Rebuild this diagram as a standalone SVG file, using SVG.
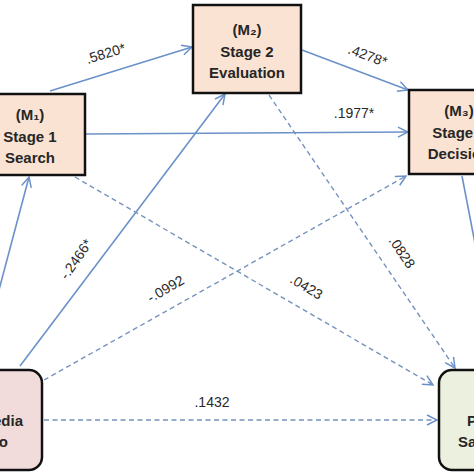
<svg xmlns="http://www.w3.org/2000/svg" width="474" height="474" viewBox="0 0 474 474">
<style>
.box{stroke:#111;stroke-width:2.5}
.m{fill:#fbe3d3}
.t{font-family:"Liberation Sans",Arial,sans-serif;font-weight:bold;font-size:15px;fill:#262626;text-anchor:middle}
.lb{font-family:"Liberation Sans",Arial,sans-serif;font-size:14px;fill:#2a2a2a;text-anchor:middle}
.s{fill:none;stroke:#6b91c9;stroke-width:1.6}
.d{fill:none;stroke:#7692bd;stroke-width:1.4;stroke-dasharray:5 3.5}
</style>
<defs>
<marker id="a" viewBox="0 0 12 12" refX="11" refY="6" markerWidth="12" markerHeight="12" markerUnits="userSpaceOnUse" orient="auto">
<polyline points="1,1 11,6 1,11" fill="none" stroke="#6b91c9" stroke-width="1.5"/>
</marker>
</defs>
<rect width="474" height="474" fill="#fff"/>
<g id="connectors">
<line class="s" x1="50" y1="91" x2="192" y2="47" marker-end="url(#a)"/>
<line class="s" x1="302" y1="50" x2="408" y2="90" marker-end="url(#a)"/>
<line class="s" x1="86" y1="134" x2="408" y2="132" marker-end="url(#a)"/>
<line class="s" x1="20" y1="366" x2="225" y2="94" marker-end="url(#a)"/>
<line class="s" x1="-22" y1="369" x2="29" y2="177" marker-end="url(#a)"/>
<line class="s" x1="462" y1="176" x2="499" y2="368" marker-end="url(#a)"/>
<line class="d" x1="75" y1="177" x2="433" y2="385" marker-end="url(#a)"/>
<line class="d" x1="269" y1="95" x2="455" y2="368" marker-end="url(#a)"/>
<line class="d" x1="44" y1="380" x2="406" y2="176" marker-end="url(#a)"/>
<line class="d" x1="44" y1="420" x2="437" y2="420" marker-end="url(#a)"/>
<text class="lb" transform="translate(107,58) rotate(-17)">.5820*</text>
<text class="lb" transform="translate(366,60) rotate(20)">.4278*</text>
<text class="lb" x="354" y="118">.1977*</text>
<text class="lb" transform="translate(80,262) rotate(-55)">-.2466*</text>
<text class="lb" transform="translate(168,293) rotate(-30)">-.0992</text>
<text class="lb" transform="translate(304,291) rotate(31)">.0423</text>
<text class="lb" transform="translate(398,255) rotate(56)">.0828</text>
<text class="lb" x="212" y="407">.1432</text>
</g>
<g id="m1">
<rect class="box m" x="-26" y="94" width="111" height="81"/>
<text class="t" x="30" y="120">(M₁)</text>
<text class="t" x="30" y="142">Stage 1</text>
<text class="t" x="30" y="163">Search</text>
</g>
<g id="m2">
<rect class="box m" x="193" y="5" width="108" height="88"/>
<text class="t" x="247" y="35">(M₂)</text>
<text class="t" x="247" y="57">Stage 2</text>
<text class="t" x="247" y="78">Evaluation</text>
</g>
<g id="m3">
<rect class="box m" x="409" y="90" width="100" height="84"/>
<text class="t" x="459" y="116">(M₃)</text>
<text class="t" x="459" y="138">Stage 3</text>
<text class="t" x="459" y="159">Decision</text>
</g>
<g id="media">
<rect class="box" x="-70" y="370" width="112" height="100" rx="13" fill="#f2dcdb"/>
<text class="t" x="23" y="426" style="text-anchor:end">Social Media</text>
<text class="t" x="8" y="447" style="text-anchor:end">Info</text>
</g>
<g id="purchase">
<rect class="box" x="439" y="370" width="112" height="100" rx="13" fill="#ebf1de"/>
<text class="t" x="467" y="426" style="text-anchor:start">Purchase</text>
<text class="t" x="458" y="447" style="text-anchor:start">Satisfaction</text>
</g>
</svg>
